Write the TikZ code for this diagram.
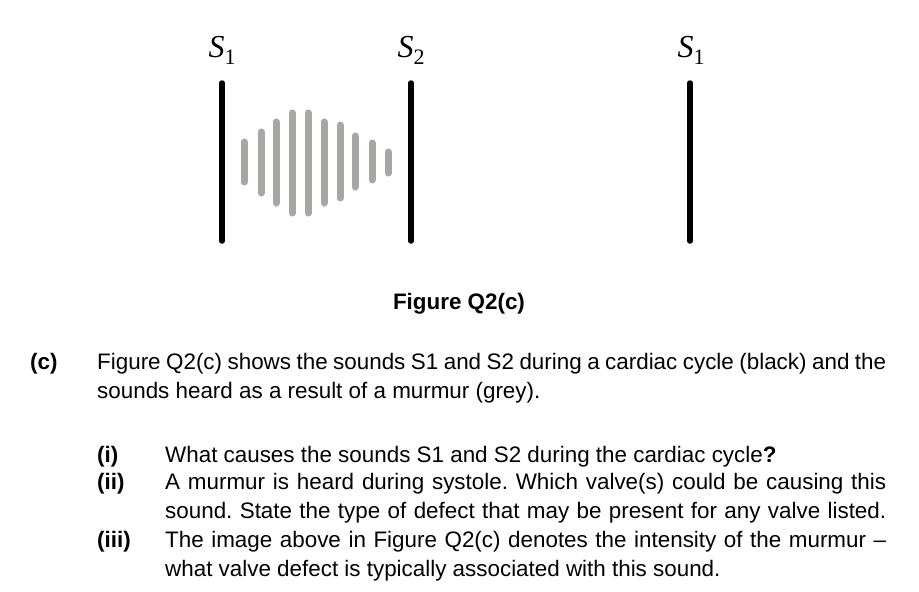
\documentclass[tikz,border=0pt]{standalone}
\usepackage{fontspec}
\setmainfont{Liberation Sans}
\newfontfamily\serifL{Liberation Serif}
\newcommand{\slab}[1]{{\serifL\itshape S}\raisebox{-0.22em}{\serifL\fontsize{22}{24}\selectfont #1}}
\frenchspacing
\begin{document}
\begin{tikzpicture}[x=1pt,y=-1pt,
  blk/.style={line width=5.5pt,line cap=round,black},
  gry/.style={line width=7pt,line cap=round,color={rgb,255:red,171;green,166;blue,166}},
  lab/.style={font=\fontsize{32}{36}\selectfont,inner sep=0pt},
  txt/.style={anchor=base west,inner sep=0pt,font=\fontsize{22.4}{26}\selectfont}]
\useasboundingbox (0,0) rectangle (919,592);
\foreach \x/\n in {222/a,411/b,690/c}{\coordinate (\n t) at (\x,83); \coordinate (\n b) at (\x,241); \draw[blk] (\n t)--(\n b);}
\foreach \x/\t/\b [count=\i] in {244/142/182,261/132/193,276/122/203,292/113/213,308/113/213,324/122/203,340/125/198,355/136/187,372/143/180,388/152/173}{
  \coordinate (g\i t) at (\x,\t); \coordinate (g\i b) at (\x,\b); \draw[gry] (g\i t)--(g\i b);}
\node[lab] (l1) at (222,50) {\slab{1}};
\node[lab] (l2) at (411,50) {\slab{2}};
\node[lab] (l3) at (691,50) {\slab{1}};
\node[txt,anchor=base] (fig) at (459,309) {\bfseries Figure Q2(c)};
\node[txt] (c) at (30,369) {\bfseries (c)};
\node[txt] (p1) at (97,369) {\makebox[789pt][s]{Figure Q2(c) shows the sounds S1 and S2 during a cardiac cycle (black) and the}};
\node[txt] (p2) at (97,398) {sounds heard as a result of a murmur (grey).};
\node[txt] (i1) at (97,462) {\bfseries (i)};
\node[txt] (i2) at (97,489) {\bfseries (ii)};
\node[txt] (i3) at (97,547) {\bfseries (iii)};
\node[txt] (t1) at (165,462) {What causes the sounds S1 and S2 during the cardiac cycle\textbf{?}};
\node[txt] (t2) at (165,489) {\makebox[721pt][s]{A murmur is heard during systole. Which valve(s) could be causing this}};
\node[txt] (t3) at (165,518) {\makebox[721pt][s]{sound. State the type of defect that may be present for any valve listed.}};
\node[txt] (t4) at (165,547) {\makebox[721pt][s]{The image above in Figure Q2(c) denotes the intensity of the murmur –}};
\node[txt] (t5) at (165,576) {what valve defect is typically associated with this sound.};
\end{tikzpicture}
\end{document}
